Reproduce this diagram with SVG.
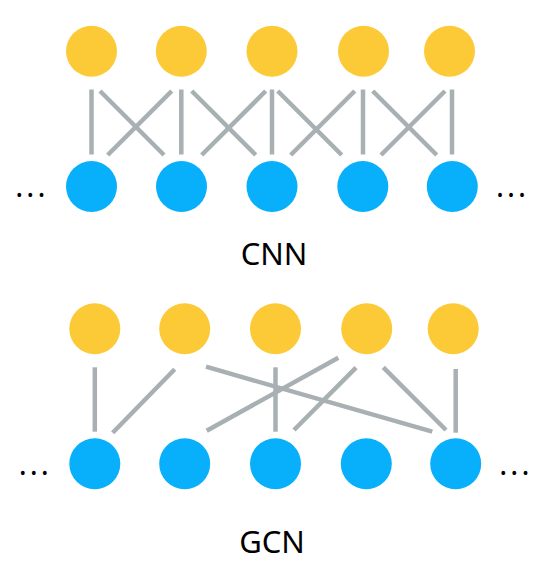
<svg xmlns="http://www.w3.org/2000/svg" width="551" height="572" viewBox="0 0 551 572">
<style>
.y{fill:#FCCA36}
.b{fill:#08AFFA}
.c line{stroke:#A9B0B3;stroke-width:4.5;stroke-linecap:butt}
.t{font-family:"Noto Sans","Liberation Sans",sans-serif;fill:#000}
.d{font-family:"Noto Sans","Liberation Sans",sans-serif;font-size:30px;letter-spacing:3px;fill:#000}
</style>
<rect width="551" height="572" fill="#fff"/>
<g id="cnn-connectors" class="c">
<line x1="91.5" y1="89.5" x2="91.5" y2="154.5"/>
<line x1="181.3" y1="89.5" x2="181.3" y2="154.5"/>
<line x1="272" y1="89.5" x2="272" y2="154.5"/>
<line x1="363" y1="89.5" x2="363" y2="154.5"/>
<line x1="452" y1="89.5" x2="452" y2="154.5"/>
<line x1="100" y1="91" x2="164" y2="155"/>
<line x1="107.7" y1="155" x2="171.7" y2="91"/>
<line x1="191.7" y1="91" x2="255.7" y2="155"/>
<line x1="201.7" y1="155" x2="265.7" y2="91"/>
<line x1="277.7" y1="91" x2="341.7" y2="155"/>
<line x1="290.7" y1="155" x2="354.7" y2="91"/>
<line x1="372.7" y1="91" x2="436.7" y2="155"/>
<line x1="381" y1="155" x2="445" y2="91"/>
</g>
<g id="cnn-y1"><circle class="y" cx="91.5" cy="51.2" r="25.5"/></g>
<g id="cnn-y2"><circle class="y" cx="181.3" cy="51.2" r="25.5"/></g>
<g id="cnn-y3"><circle class="y" cx="272" cy="51.2" r="25.5"/></g>
<g id="cnn-y4"><circle class="y" cx="363.5" cy="51.2" r="25.5"/></g>
<g id="cnn-y5"><circle class="y" cx="449.5" cy="51.2" r="25.5"/></g>
<g id="cnn-b1"><circle class="b" cx="91.5" cy="186.5" r="25.5"/></g>
<g id="cnn-b2"><circle class="b" cx="181.5" cy="186.5" r="25.5"/></g>
<g id="cnn-b3"><circle class="b" cx="272" cy="186.5" r="25.5"/></g>
<g id="cnn-b4"><circle class="b" cx="362.8" cy="186.5" r="25.5"/></g>
<g id="cnn-b5"><circle class="b" cx="452.3" cy="186.5" r="25.5"/></g>
<text class="d" x="15.3" y="197">...</text>
<text class="d" x="496" y="197">...</text>
<text class="t" x="274" y="265" font-size="31" text-anchor="middle">CNN</text>

<g id="gcn-connectors" class="c">
<line x1="94.8" y1="367.3" x2="94.8" y2="431.7"/>
<line x1="112.7" y1="432.7" x2="174.7" y2="369.3"/>
<line x1="206" y1="366.7" x2="432.3" y2="431.7"/>
<line x1="206.7" y1="430.7" x2="338.3" y2="357.7"/>
<line x1="275.5" y1="367.3" x2="275.5" y2="431.7"/>
<line x1="356" y1="367.7" x2="294" y2="430"/>
<line x1="383.3" y1="367.3" x2="446" y2="430"/>
<line x1="455.7" y1="369" x2="455.7" y2="432.7"/>
</g>
<g id="gcn-y1"><circle class="y" cx="94.8" cy="328.7" r="25.5"/></g>
<g id="gcn-y2"><circle class="y" cx="184.7" cy="328.7" r="25.5"/></g>
<g id="gcn-y3"><circle class="y" cx="275.5" cy="328.7" r="25.5"/></g>
<g id="gcn-y4"><circle class="y" cx="366.7" cy="328.7" r="25.5"/></g>
<g id="gcn-y5"><circle class="y" cx="453.2" cy="328.7" r="25.5"/></g>
<g id="gcn-b1"><circle class="b" cx="94.8" cy="463.8" r="25.5"/></g>
<g id="gcn-b2"><circle class="b" cx="184.7" cy="463.8" r="25.5"/></g>
<g id="gcn-b3"><circle class="b" cx="275.5" cy="463.8" r="25.5"/></g>
<g id="gcn-b4"><circle class="b" cx="366.3" cy="463.8" r="25.5"/></g>
<g id="gcn-b5"><circle class="b" cx="455.7" cy="463.8" r="25.5"/></g>
<text class="d" x="18.7" y="474.7">...</text>
<text class="d" x="499.3" y="474.7">...</text>
<text class="t" x="272" y="553" font-size="31" text-anchor="middle">GCN</text>
</svg>
